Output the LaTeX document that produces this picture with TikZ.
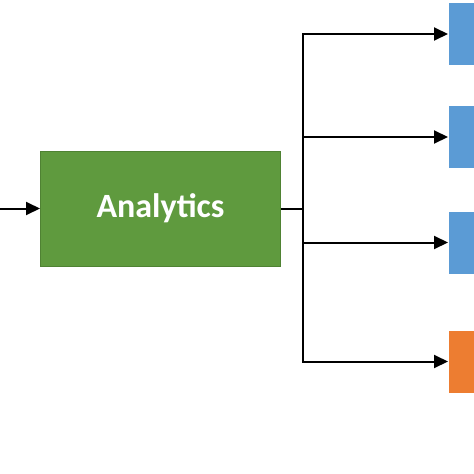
\documentclass[tikz,border=0pt]{standalone}
\usepackage{fontspec}
\setmainfont{Carlito}
\usepackage{xcolor}
\usetikzlibrary{arrows.meta}
\definecolor{anagreen}{HTML}{5F9A3E}
\definecolor{anaedge}{HTML}{4F8233}
\definecolor{outblue}{HTML}{5B9BD5}
\definecolor{outorange}{HTML}{ED7D31}
\begin{document}
\begin{tikzpicture}[x=1pt,y=-1pt,line width=2pt,>={Triangle[length=14pt,width=13pt]}]
    \tikzstyle{blk}=[shape=rectangle, inner sep=0pt, minimum width=50pt, minimum height=62pt]
	\useasboundingbox (0,0) rectangle (474,474);
	\clip (0,0) rectangle (474,474);
	\node[blk, fill=anagreen, draw=anaedge, line width=1pt, minimum width=240pt, minimum height=115pt,
	      text=white, font=\bfseries\fontsize{34}{38}\selectfont] (ana) at (160.5, 208.5) {Analytics};

	\node[blk, fill=outblue] (outa) at (474, 34) {};
	\node[blk, fill=outblue] (outb) at (474, 137) {};
	\node[blk, fill=outblue] (outc) at (474, 242.5) {};
	\node[blk, fill=outorange] (outd) at (474, 361.5) {};

	\coordinate (src) at (0, 208.5);
	\coordinate (fork) at (303, 208.5);
	\coordinate (busa) at (303, 34);
	\coordinate (busb) at (303, 137);
	\coordinate (busc) at (303, 242.5);
	\coordinate (busd) at (303, 361.5);

	\draw [->] (src) -- (ana.west);
	\draw (ana.east) -- (fork);
	\draw [line cap=rect] (busa) -- (busd);
	\draw [->] (busa) -- (outa.west);
	\draw [->] (busb) -- (outb.west);
	\draw [->] (busc) -- (outc.west);
	\draw [->] (busd) -- (outd.west);
\end{tikzpicture}
\end{document}
